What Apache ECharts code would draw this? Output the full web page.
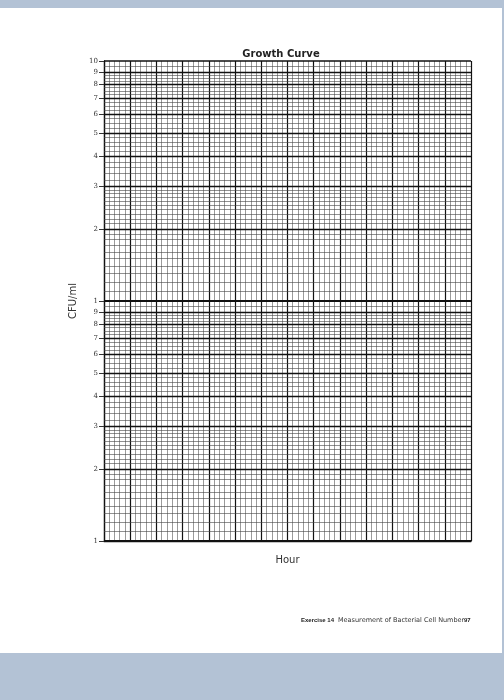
<!DOCTYPE html>
<html>
<head>
<meta charset="utf-8">
<script src="https://cdn.jsdelivr.net/npm/echarts@6/dist/echarts.min.js"></script>
<style>
html, body { margin: 0; padding: 0; background: #b3c2d5; }
#page { position: absolute; left: 0; top: 8px; width: 502px; height: 645px; background: #fff; }
#chart { position: absolute; left: 0; top: 0; width: 504px; height: 700px; }
</style>
</head>
<body>
<div id="page"></div>
<div id="chart"></div>
<script>
// hours on the x axis, two log decades on y
var hours = [0, 14];
var yTickValues = [1, 2, 3, 4, 5, 6, 7, 8, 9, 10, 20, 30, 40, 50, 60, 70, 80, 90, 100];
var yTickLabels = ['1', '2', '3', '4', '5', '6', '7', '8', '9', '1', '2', '3', '4', '5', '6', '7', '8', '9', '10'];
// minor ruling step inside each unit of a decade
var minorSteps = [0.1, 0.1, 0.2, 0.2, 0.25, 0.25, 0.25, 0.25, 0.5];

var lines = [];
[1, 10].forEach(function(dec) {
	for (var u = 1; u < 10; u++) {
		var st = minorSteps[u - 1];
		for (var v = u; v < u + 1 - 1e-6; v += st) {
			var major = Math.abs(v - Math.round(v)) < 1e-6;
			lines.push({
				yAxis: +(v * dec).toFixed(4),
				lineStyle: { color: major ? '#111' : '#444', width: major ? (u == 1 ? 2 : 1.3) : 0.6, type: 'solid' }
			});
		}
	}
});
lines.push({ yAxis: 100, lineStyle: { color: '#111', width: 1.5, type: 'solid' } });

var chart = echarts.init(document.getElementById('chart'));
chart.setOption({
	animation: false,
	title: { text: 'Growth Curve', left: 276, top: 44, textAlign: 'center',
		textStyle: { fontFamily: 'DejaVu Sans', fontSize: 10, fontWeight: 'bold', color: '#222' } },
	grid: { left: 104, right: 33, top: 61, bottom: 159 },
	xAxis: {
		type: 'value', min: hours[0], max: hours[1], interval: 1,
		name: 'Hour', nameLocation: 'middle', nameGap: 14,
		nameTextStyle: { fontFamily: 'DejaVu Sans', fontSize: 10, color: '#333' },
		axisLabel: { show: false }, axisTick: { show: false },
		axisLine: { lineStyle: { color: '#111', width: 1.3 } },
		splitLine: { show: true, lineStyle: { color: '#111', width: 1.2 } },
		minorTick: { show: false, splitNumber: 5 },
		minorSplitLine: { show: true, lineStyle: { color: '#555', width: 0.6 } }
	},
	yAxis: {
		type: 'log', logBase: 10, min: 1, max: 100,
		name: 'CFU/ml', nameLocation: 'middle', nameGap: 14, nameRotate: 90,
		nameTextStyle: { fontFamily: 'DejaVu Sans', fontSize: 10, color: '#333' },
		axisLine: { show: true, lineStyle: { color: '#111', width: 1.3 } },
		axisTick: { show: true, length: 5, customValues: yTickValues, lineStyle: { color: '#333' } },
		axisLabel: { customValues: yTickValues, margin: 6, fontFamily: 'DejaVu Serif', fontSize: 7, color: '#333',
			formatter: function(v) { return yTickLabels[yTickValues.indexOf(Math.round(v))] || ''; } },
		splitLine: { show: false }
	},
	series: [{
		type: 'line', data: [], silent: true,
		markLine: { silent: true, symbol: 'none', label: { show: false }, data: lines }
	}],
	graphic: [
		{ type: 'text', left: 301, top: 617, style: { text: 'Exercise 14', font: 'bold 6px "Liberation Sans Narrow", sans-serif', fill: '#222' } },
		{ type: 'text', left: 338, top: 617, style: { text: 'Measurement of Bacterial Cell Number', font: '6.5px "DejaVu Sans", sans-serif', fill: '#333' } },
		{ type: 'text', left: 464, top: 617, style: { text: '97', font: 'bold 6px sans-serif', fill: '#222' } }
	]
});
</script>
</body>
</html>
